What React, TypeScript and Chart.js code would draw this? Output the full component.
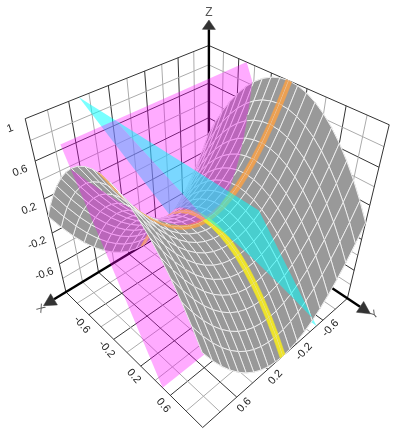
import React, { useEffect, useRef } from "react";
import { Chart, registerables } from "chart.js";
Chart.register(...registerables);

const gridValues = [-1,-0.8,-0.6,-0.4,-0.2,0,0.2,0.4,0.6,0.8,1];
const majorValues = [-1,-0.6,-0.2,0.2,0.6,1];
const xTickLabels = ["0.6","0.2","-0.2","-0.6"];
const yTickLabels = ["0.6","0.2","-0.2","-0.6"];
const zTickLabels = ["1","0.6","0.2","-0.2","-0.6"];
const surfaceX = [-1,-0.9,-0.8,-0.7,-0.6,-0.5,-0.4,-0.3,-0.2,-0.1,0,0.1,0.2,0.3,0.4,0.5,0.6,0.7,0.8,0.9,1];
const surfaceY = [-1,-0.9,-0.8,-0.7,-0.6,-0.5,-0.4,-0.3,-0.2,-0.1,0,0.1,0.2,0.3,0.4,0.5,0.6,0.7,0.8,0.9,1];
const surfaceZ = [
[0,.19,.36,.51,.64,.75,.84,.91,.96,.99,1,.99,.96,.91,.84,.75,.64,.51,.36,.19,0],
[-.19,0,.17,.32,.45,.56,.65,.72,.77,.8,.81,.8,.77,.72,.65,.56,.45,.32,.17,0,-.19],
[-.36,-.17,0,.15,.28,.39,.48,.55,.6,.63,.64,.63,.6,.55,.48,.39,.28,.15,0,-.17,-.36],
[-.51,-.32,-.15,0,.13,.24,.33,.4,.45,.48,.49,.48,.45,.4,.33,.24,.13,0,-.15,-.32,-.51],
[-.64,-.45,-.28,-.13,0,.11,.2,.27,.32,.35,.36,.35,.32,.27,.2,.11,0,-.13,-.28,-.45,-.64],
[-.75,-.56,-.39,-.24,-.11,0,.09,.16,.21,.24,.25,.24,.21,.16,.09,0,-.11,-.24,-.39,-.56,-.75],
[-.84,-.65,-.48,-.33,-.2,-.09,0,.07,.12,.15,.16,.15,.12,.07,0,-.09,-.2,-.33,-.48,-.65,-.84],
[-.91,-.72,-.55,-.4,-.27,-.16,-.07,0,.05,.08,.09,.08,.05,0,-.07,-.16,-.27,-.4,-.55,-.72,-.91],
[-.96,-.77,-.6,-.45,-.32,-.21,-.12,-.05,0,.03,.04,.03,0,-.05,-.12,-.21,-.32,-.45,-.6,-.77,-.96],
[-.99,-.8,-.63,-.48,-.35,-.24,-.15,-.08,-.03,0,.01,0,-.03,-.08,-.15,-.24,-.35,-.48,-.63,-.8,-.99],
[-1,-.81,-.64,-.49,-.36,-.25,-.16,-.09,-.04,-.01,0,-.01,-.04,-.09,-.16,-.25,-.36,-.49,-.64,-.81,-1],
[-.99,-.8,-.63,-.48,-.35,-.24,-.15,-.08,-.03,0,.01,0,-.03,-.08,-.15,-.24,-.35,-.48,-.63,-.8,-.99],
[-.96,-.77,-.6,-.45,-.32,-.21,-.12,-.05,0,.03,.04,.03,0,-.05,-.12,-.21,-.32,-.45,-.6,-.77,-.96],
[-.91,-.72,-.55,-.4,-.27,-.16,-.07,0,.05,.08,.09,.08,.05,0,-.07,-.16,-.27,-.4,-.55,-.72,-.91],
[-.84,-.65,-.48,-.33,-.2,-.09,0,.07,.12,.15,.16,.15,.12,.07,0,-.09,-.2,-.33,-.48,-.65,-.84],
[-.75,-.56,-.39,-.24,-.11,0,.09,.16,.21,.24,.25,.24,.21,.16,.09,0,-.11,-.24,-.39,-.56,-.75],
[-.64,-.45,-.28,-.13,0,.11,.2,.27,.32,.35,.36,.35,.32,.27,.2,.11,0,-.13,-.28,-.45,-.64],
[-.51,-.32,-.15,0,.13,.24,.33,.4,.45,.48,.49,.48,.45,.4,.33,.24,.13,0,-.15,-.32,-.51],
[-.36,-.17,0,.15,.28,.39,.48,.55,.6,.63,.64,.63,.6,.55,.48,.39,.28,.15,0,-.17,-.36],
[-.19,0,.17,.32,.45,.56,.65,.72,.77,.8,.81,.8,.77,.72,.65,.56,.45,.32,.17,0,-.19],
[0,.19,.36,.51,.64,.75,.84,.91,.96,.99,1,.99,.96,.91,.84,.75,.64,.51,.36,.19,0],
];
const pinkTilt = -0.5;
const cyanTilt = 0.5;
const bandHalfWidth = 0.032;

type V = [number, number, number];

const CAL: [V, [number, number]][] = [
  [[-1,-1,-1],[209,206]], [[1,-1,-1],[65,291]], [[-1,1,-1],[347,299]], [[1,1,-1],[205,428]],
  [[-1,-1,1],[209,46]], [[1,-1,1],[25,120]], [[-1,1,1],[389,125]],
  [[0,0,0],[206,219]], [[-1,0,1],[289,79]], [[0,1,-1],[281,356]],
];

function solve(A: number[][], b: number[]) {
  const n = b.length;
  const M = A.map((r, i) => [...r, b[i]]);
  for (let c = 0; c < n; c++) {
    let p = c;
    for (let r = c + 1; r < n; r++) if (Math.abs(M[r][c]) > Math.abs(M[p][c])) p = r;
    [M[c], M[p]] = [M[p], M[c]];
    for (let r = 0; r < n; r++) {
      if (r === c) continue;
      const f = M[r][c] / M[c][c];
      for (let k = c; k <= n; k++) M[r][k] -= f * M[c][k];
    }
  }
  return M.map((r, i) => r[n] / r[i]);
}

function fitCamera() {
  const rows: number[][] = [], rhs: number[] = [];
  for (const [[x, y, z], [u, v]] of CAL) {
    rows.push([x,y,z,1,0,0,0,0,-u*x,-u*y,-u*z]); rhs.push(u);
    rows.push([0,0,0,0,x,y,z,1,-v*x,-v*y,-v*z]); rhs.push(v);
  }
  const N = Array.from({length: 11}, (_, i) => Array.from({length: 11}, (_, j) => rows.reduce((s, r) => s + r[i]*r[j], 0)));
  const B = Array.from({length: 11}, (_, i) => rows.reduce((s, r, k) => s + r[i]*rhs[k], 0));
  return solve(N, B);
}
const P = fitCamera();
const project = (p: V) => {
  const w = P[8]*p[0] + P[9]*p[1] + P[10]*p[2] + 1;
  return { x: (P[0]*p[0] + P[1]*p[1] + P[2]*p[2] + P[3]) / w, y: (P[4]*p[0] + P[5]*p[1] + P[6]*p[2] + P[7]) / w };
};
const camera = solve([[P[0],P[1],P[2]],[P[4],P[5],P[6]],[P[8],P[9],P[10]]], [-P[3],-P[7],-1]) as unknown as V;

type Side = (p: V) => number;
const pinkF: Side = (p) => p[1] - pinkTilt*p[2];
const cyanF: Side = (p) => p[0] - cyanTilt*p[2];
const pinkS = Math.sign(pinkF(camera));
const cyanS = Math.sign(cyanF(camera));
const lerp = (a: V, b: V, t: number): V => [a[0]+(b[0]-a[0])*t, a[1]+(b[1]-a[1])*t, a[2]+(b[2]-a[2])*t];

function clipPoly(poly: V[], f: Side, s: number) {
  const out: V[] = [];
  for (let i = 0; i < poly.length; i++) {
    const a = poly[i], b = poly[(i+1)%poly.length];
    const fa = f(a)*s, fb = f(b)*s;
    if (fa >= 0) out.push(a);
    if ((fa >= 0) !== (fb >= 0)) out.push(lerp(a, b, fa/(fa-fb)));
  }
  return out;
}
function clipSeg(a: V, b: V, f: Side, s: number): [V, V] | null {
  const fa = f(a)*s, fb = f(b)*s;
  if (fa < 0 && fb < 0) return null;
  if (fa >= 0 && fb >= 0) return [a, b];
  const m = lerp(a, b, fa/(fa-fb));
  return fa >= 0 ? [a, m] : [m, b];
}

const base = { showLine: true, pointRadius: 0, pointHitRadius: 0, spanGaps: false, tension: 0 };
const fillDs = (pts: V[], color: string, edge = 0.6) => {
  const d = pts.map(project);
  d.push(d[0]);
  return { ...base, data: d, fill: "shape", backgroundColor: color, borderColor: color, borderWidth: edge };
};
const lineDs = (a: V, b: V, color: string, width: number) => ({ ...base, data: [project(a), project(b)], fill: false, borderColor: color, borderWidth: width });

function zAt(i: number, j: number, x: number, y: number) {
  const u = (x - surfaceX[i]) / (surfaceX[i+1]-surfaceX[i]);
  const v = (y - surfaceY[j]) / (surfaceY[j+1]-surfaceY[j]);
  const z = surfaceZ;
  return (1-u)*(1-v)*z[i][j] + u*(1-v)*z[i+1][j] + (1-u)*v*z[i][j+1] + u*v*z[i+1][j+1];
}

const GREY = "#999999", ORANGE = "#eca052", YELLOW = "#eee42a", MESH = "rgba(255,255,255,0.95)";
const PINK = "rgba(255,0,255,0.33)", CYAN = "rgba(0,255,255,0.52)";

function surfaceLeaf(ps: number, cs: number) {
  const out: any[] = [];
  const clipP = (poly: V[]) => clipPoly(clipPoly(poly, pinkF, ps), cyanF, cs);
  const addFill = (poly: V[], color: string) => { const c = clipP(poly); if (c.length >= 3) out.push(fillDs(c, color)); };
  const addSeg = (a: V, b: V) => {
    const s1 = clipSeg(a, b, pinkF, ps);
    if (!s1) return;
    const s2 = clipSeg(s1[0], s1[1], cyanF, cs);
    if (s2) out.push(lineDs(s2[0], s2[1], MESH, 0.85));
  };
  for (let i = 0; i < surfaceX.length-1; i++) for (let j = 0; j < surfaceY.length-1; j++) {
    const x0 = surfaceX[i], x1 = surfaceX[i+1], y0 = surfaceY[j], y1 = surfaceY[j+1];
    const c: V[] = [[x0,y0,surfaceZ[i][j]],[x1,y0,surfaceZ[i+1][j]],[x1,y1,surfaceZ[i+1][j+1]],[x0,y1,surfaceZ[i][j+1]]];
    addFill(c, GREY);
    for (let k = 0; k < 4; k++) addSeg(c[k], c[(k+1)%4]);
    const ya = Math.max(y0, -bandHalfWidth), yb = Math.min(y1, bandHalfWidth);
    if (yb > ya) addFill([[x0,ya,zAt(i,j,x0,ya)],[x1,ya,zAt(i,j,x1,ya)],[x1,yb,zAt(i,j,x1,yb)],[x0,yb,zAt(i,j,x0,yb)]], ORANGE);
    const xa = Math.max(x0, -bandHalfWidth), xb = Math.min(x1, bandHalfWidth);
    if (xb > xa) addFill([[xa,y0,zAt(i,j,xa,y0)],[xb,y0,zAt(i,j,xb,y0)],[xb,y1,zAt(i,j,xb,y1)],[xa,y1,zAt(i,j,xa,y1)]], YELLOW);
  }
  return out;
}

function buildDatasets() {
  const out: any[] = [];
  for (const t of gridValues) {
    const maj = majorValues.includes(t);
    const col = maj ? "#333333" : "#ababab";
    const w = 1;
    out.push(lineDs([t,-1,-1],[t,-1,1],col,w));
    out.push(lineDs([-1,t,-1],[-1,t,1],col,w));
    out.push(lineDs([t,-1,-1],[t,1,-1],col,w));
    out.push(lineDs([-1,t,-1],[1,t,-1],col,w));
    out.push(lineDs([-1,-1,t],[1,-1,t],col,w));
    out.push(lineDs([-1,-1,t],[-1,1,t],col,w));
  }
  const arrow = (tail: V, tip: V, head: V) => {
    out.push(lineDs(tail, head, "#000000", 2.4));
    const a = project(tip), b = project(head);
    const dx = a.x-b.x, dy = a.y-b.y, L = Math.hypot(dx,dy);
    const nx = -dy/L*6.5, ny = dx/L*6.5;
    out.push({ ...base, data: [a, {x:b.x+nx,y:b.y+ny}, {x:b.x-nx,y:b.y-ny}, a], fill:"shape", backgroundColor:"#333333", borderColor:"#333333", borderWidth:0.5 });
  };
  arrow([-1,-1,-1],[1.26,-1,-1],[1.14,-1,-1]);
  arrow([-1,-1,-1],[-1,1.27,-1],[-1,1.15,-1]);
  arrow([-1,-1,-1],[-1,-1,1.25],[-1,-1,1.16]);

  const pinkPoly: V[] = [[-1,pinkTilt,1],[1,pinkTilt,1],[1,-pinkTilt,-1],[-1,-pinkTilt,-1]];
  const cyanPoly: V[] = [[cyanTilt,-1,1],[cyanTilt,1,1],[-cyanTilt,1,-1],[-cyanTilt,-1,-1]];
  const half = (ps: number) => {
    const c = clipPoly(cyanPoly, pinkF, ps);
    out.push(...surfaceLeaf(ps, -cyanS));
    if (c.length >= 3) out.push(fillDs(c, CYAN, 0));
    out.push(...surfaceLeaf(ps, cyanS));
  };
  half(-pinkS);
  out.push(fillDs(pinkPoly, PINK, 0));
  half(pinkS);
  return out.reverse();
}

const textPlugin = {
  id: "labels3d",
  afterDatasetsDraw(chart: any) {
    const { ctx, scales } = chart;
    const put = (txt: string, p: V, rot: number, font: string, color: string, dx = 0, dy = 0) => {
      const q = project(p);
      ctx.save();
      ctx.translate(scales.x.getPixelForValue(q.x)+dx, scales.y.getPixelForValue(q.y)+dy);
      ctx.rotate(rot*Math.PI/180);
      ctx.font = font; ctx.fillStyle = color; ctx.textAlign = "center"; ctx.textBaseline = "middle";
      ctx.fillText(txt, 0, 0);
      ctx.restore();
    };
    const f = "11px 'Liberation Sans'";
    xTickLabels.forEach((t) => put(t, [parseFloat(t), 1, -1], -47, f, "#222", 7.5, 8));
    yTickLabels.forEach((t) => put(t, [1, parseFloat(t), -1], 50, f, "#222", -7, 10));
    zTickLabels.forEach((t) => put(t, [1, -1, parseFloat(t)], -20, f, "#222", -15, 10));
    put("X", [1.26,-1,-1], 40, "11px 'Liberation Sans'", "#555", -3, 3);
    put("Y", [-1,1.27,-1], -40, "11px 'Liberation Sans'", "#555", 4, 1);
    put("Z", [-1,-1,1.25], 0, "12px 'Liberation Sans'", "#555", 0, -7);
  },
};

export default function App() {
  const ref = useRef<HTMLCanvasElement>(null);
  useEffect(() => {
    document.body.style.margin = "0";
    const chart = new Chart(ref.current!, {
      type: "scatter",
      data: { datasets: buildDatasets() },
      options: {
        responsive: false, animation: false, events: [],
        layout: { padding: 0 },
        plugins: { legend: { display: false }, tooltip: { enabled: false } },
        scales: {
          x: { type: "linear", min: 0, max: 404, display: false },
          y: { type: "linear", min: 0, max: 433, reverse: true, display: false },
        },
      },
      plugins: [textPlugin],
    } as any);
    return () => chart.destroy();
  }, []);
  return <canvas ref={ref} width={404} height={433} style={{ display: "block", width: 404, height: 433 }} />;
}
